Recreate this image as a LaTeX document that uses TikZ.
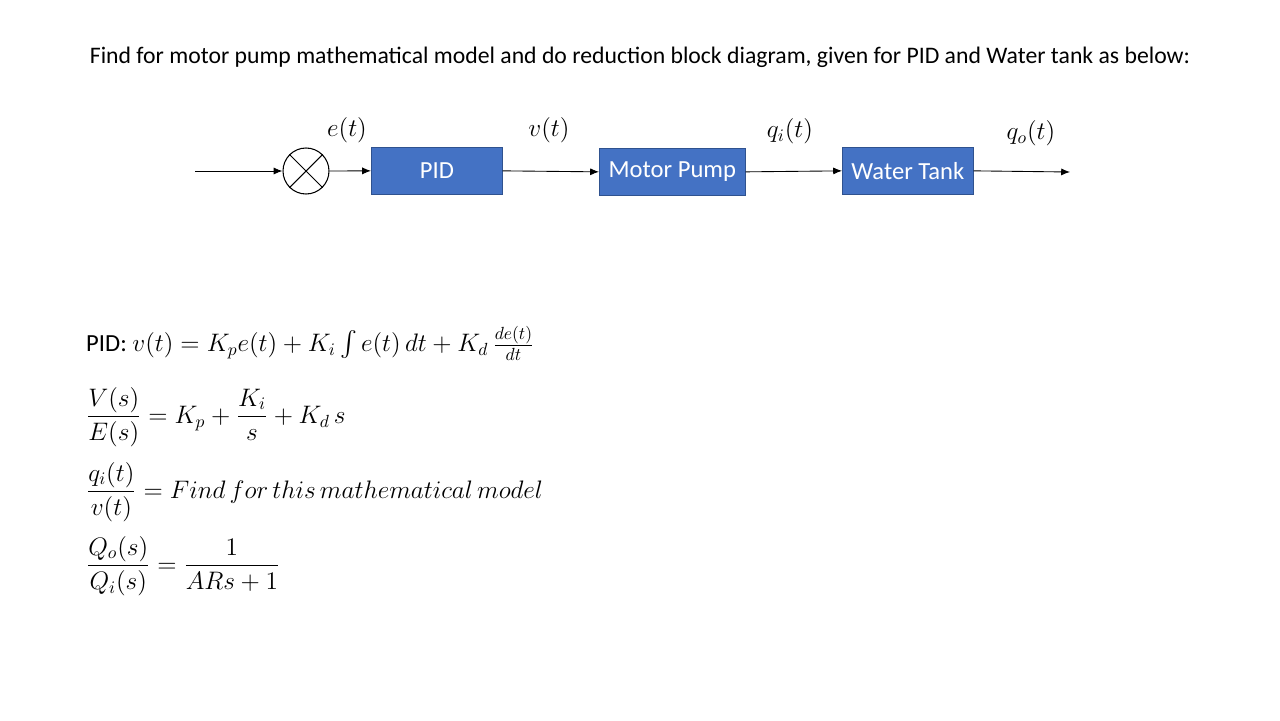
\documentclass[tikz,border=0pt]{standalone}
\usepackage{amsmath}
\usepackage{fontspec}
\setmainfont{Carlito}
\usetikzlibrary{arrows.meta}
\definecolor{boxblue}{HTML}{4472C4}
\definecolor{boxedge}{HTML}{2F528F}
\begin{document}
\begin{tikzpicture}[x=0.02cm,y=-0.02cm,
  blk/.style={draw=boxedge,fill=boxblue,text=white,font=\fontsize{14}{16}\selectfont,anchor=north west,inner sep=0pt},
  sig/.style={-{Latex[length=5pt,width=4pt]},line width=0.5pt},
  lbl/.style={font=\fontsize{14}{16}\selectfont},
  eq/.style={anchor=west,font=\fontsize{14}{16}\selectfont}]
\useasboundingbox (0,0) rectangle (1280,720);
\node[font=\fontsize{13.5}{16}\selectfont] (title) at (640,57) {Find for motor pump mathematical model and do reduction block diagram, given for PID and Water tank as below:};
\coordinate (in) at (195,171);
\node[draw,circle,minimum size=46*0.02cm,inner sep=0pt,line width=0.6pt] (sum) at (306,171) {};
\draw[line width=0.6pt] (sum.north west) -- (sum.south east) (sum.north east) -- (sum.south west);
\node[blk,minimum width=131*0.02cm,minimum height=47*0.02cm] (pid) at (371,147) {PID};
\node[blk,minimum width=146*0.02cm,minimum height=47*0.02cm] (mp) at (599,148) {Motor Pump};
\node[blk,minimum width=131*0.02cm,minimum height=47*0.02cm] (wt) at (842,147) {Water Tank};
\coordinate (out) at (1070,172);
\draw[sig] (in) -- (sum.west);
\draw[sig] (sum.east) -- (pid.west);
\draw[sig] (pid.east) -- (mp.west);
\draw[sig] (mp.east) -- (wt.west);
\draw[sig] (wt.east) -- (out);
\node[lbl] (le) at (347,130) {$e(t)$};
\node[lbl] (lv) at (549,130) {$v(t)$};
\node[lbl] (lq) at (790,131) {$q_i(t)$};
\node[lbl] (lo) at (1031,133) {$q_o(t)$};
\node[eq] (e1) at (80,343) {PID: $v(t)=K_pe(t)+K_i\int e(t)\,dt+K_d\,\frac{de(t)}{dt}$};
\node[eq] (e2) at (80,417) {$\dfrac{V(s)}{E(s)}=K_p+\dfrac{K_i}{s}+K_d\,s$};
\node[eq] (e3) at (80,492) {$\dfrac{q_i(t)}{v(t)}=Find\,for\,this\,mathematical\,model$};
\node[eq] (e4) at (80,566) {$\dfrac{Q_o(s)}{Q_i(s)}=\dfrac{1}{ARs+1}$};
\end{tikzpicture}
\end{document}
